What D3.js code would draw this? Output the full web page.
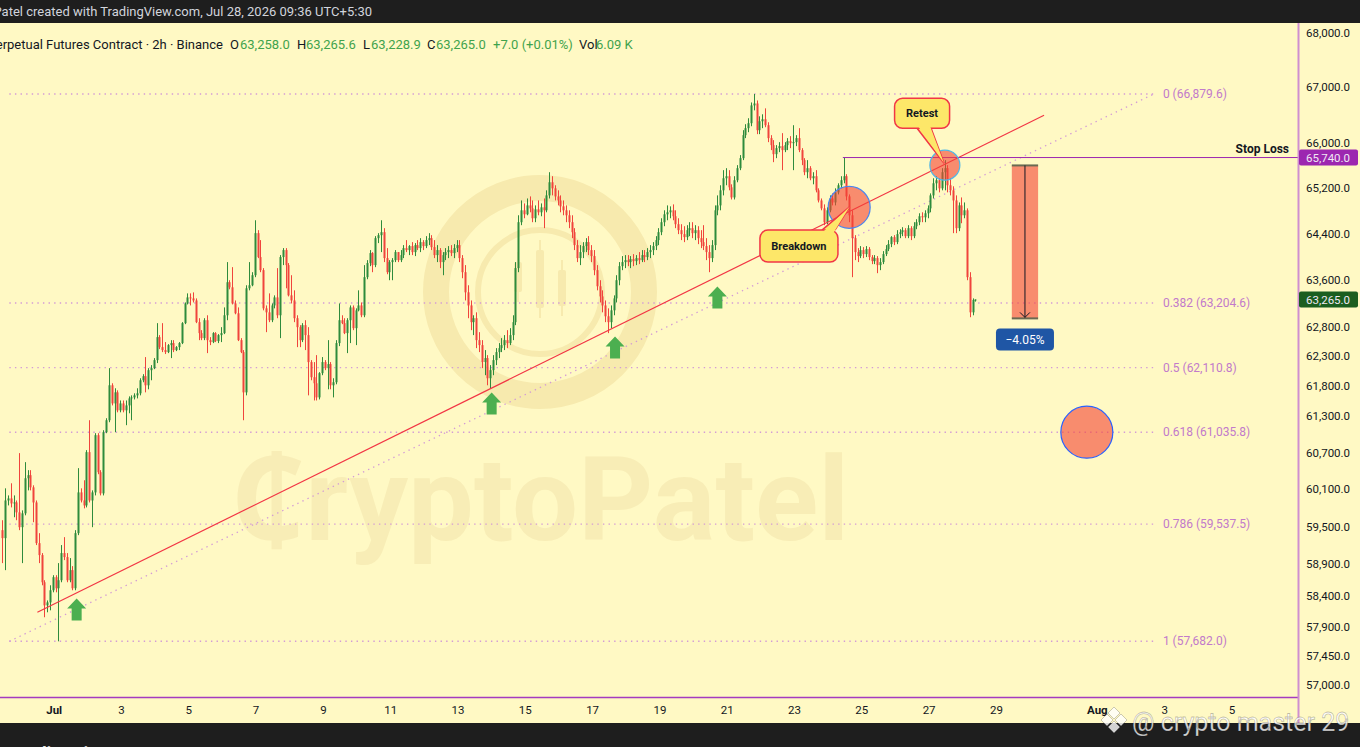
<!DOCTYPE html>
<html><head><meta charset="utf-8">
<script src="https://cdn.jsdelivr.net/npm/d3@7"></script>
<style>
html,body{margin:0;padding:0;background:#1e1e1e;overflow:hidden}
svg{display:block}
text{font-family:"Roboto","Noto Sans",sans-serif}
</style></head><body>
<svg id="chart" width="1360" height="747"></svg>
<script>
// ---------------- DATA ----------------
const firstCandleStart = "2026-06-29T10:00"; // 2h candles, open = previous close
const firstOpen = 59441;
const closes = [59313,59920,59953,59872,59888,59728,59489,59712,60281,60331,60133,59888,59233,59042,58610,58245,58292,58483,58690,58515,
58642,59074,59010,58642,58802,58515,59393,60051,59920,59840,60708,59920,60051,60987,60380,60035,61036,61234,61815,61513,
61697,61398,61513,61398,61480,61596,61613,61647,61681,61899,61967,61815,62068,62102,62237,62625,62456,62406,62372,62490,
62524,62406,62456,62524,62862,63198,63301,63284,63249,62879,
62693,62608,62912,62574,62541,62693,62558,62659,62693,62996,63561,63474,63198,63030,62574,62372,61697,63457,63509,63682,
64410,63995,63769,63114,63046,62912,63164,63301,62996,63995,64116,63856,63336,63249,62946,62794,62574,62828,62659,62204,
61950,61849,61613,62018,62204,62102,62170,61815,61866,62524,62912,62862,62693,62912,63130,62777,63080,63164,62996,63648,
63891,64064,63856,64323,64375,64427,63977,63734,63908,63942,64081,63942,
64029,64150,64116,64185,64081,64202,64150,64254,64185,64289,64323,64167,64029,64116,63908,64029,64081,64116,64064,64150,
64202,63977,63734,63388,63164,62879,62946,62574,62490,62204,62271,61933,62068,62237,62372,62439,62490,62574,62524,62659,
62879,63804,64601,64809,64739,64895,64843,64670,64826,64774,64861,64809,65071,65302,65195,65053,64982,64878,64809,64722,
64601,64427,64202,63977,64081,64185,64254,64116,64012,63769,63492,63318,63164,62979,62879,63080,63284,63596,63838,63908,
63942,63908,63960,63925,63977,63942,64029,63995,64081,64116,64185,64289,64427,64601,64739,64774,64809,64705,64566,64462,
64393,64341,64462,64497,64410,64462,64323,64254,64185,64081,63977,64202,64809,64895,65160,65373,65409,65213,
65035,65338,65551,65729,66139,66264,66353,66673,66708,66228,66388,66424,66317,66086,65961,65800,65907,65943,65872,65961,
66032,65996,66014,66086,65872,65694,65480,65551,65373,65409,65160,64982,64843,64601,64809,65017,64947,65124,65249,65338,
65409,65053,64722,64323,64081,64012,64116,64046,64133,63995,63925,63977,63856,63908,64046,64133,64219,64341,64254,64393,
64427,64462,64358,64497,64358,64531,64601,64705,64687,64757,64843,65071,65284,65338,65195,65480,65551,65249,65160,64982,
64497,64895,64722,64809,63648,63046,63258,63265.0];
const highs = [59601,60117,60002,60199,60002,59920,60692,59760,60544,60413,60413,60166,59920,59393,59074,58642,58323,58562,58722,58722,
58914,59202,59329,59074,58994,58866,59441,60446,60117,60248,60741,61234,60084,61020,61020,60413,61069,61267,62102,61849,
61765,61731,61562,61562,61562,61630,61647,61681,61765,61933,62001,62288,62102,62153,62271,62862,62659,62862,62541,62507,
62574,62574,62473,62541,62879,63215,63370,63370,63387,63284,
62946,62743,62946,62996,62625,62709,62709,62676,62794,63130,63908,63596,63821,63249,63130,62608,62406,63509,63908,63734,
64635,64462,64289,63804,63164,63370,63198,63336,63804,64029,64150,64150,63891,63682,63422,62996,62828,62862,62912,62794,
62237,62204,62321,62035,62288,62237,62574,62204,61933,62574,63198,62996,62946,62946,63164,63164,63114,63422,63215,63856,
63942,64116,64081,64358,64410,64635,64497,64150,63942,63977,64116,64081,
64116,64202,64289,64202,64254,64237,64289,64323,64289,64358,64410,64375,64289,64202,64150,64081,64150,64185,64202,64219,
64289,64289,64029,63856,63509,63249,62996,63046,62709,62574,62406,62321,62153,62321,62439,62524,62608,62659,62743,62777,
62996,63908,64722,64982,64930,65017,65053,64982,64895,64982,64930,65017,65160,65480,65409,65249,65160,65071,64982,64895,
64809,64722,64497,64289,64202,64254,64323,64358,64202,64116,63856,63596,63422,63249,63114,63164,63336,63682,63908,64012,
64029,64029,64012,64046,64029,64081,64116,64116,64150,64202,64254,64358,64497,64670,64809,64895,64878,64913,64809,64670,
64566,64531,64549,64601,64601,64549,64531,64462,64549,64323,64202,64289,64895,65071,65249,65516,65551,65516,
65266,65409,65605,65783,66228,66335,66442,66726,66879.6,66762,66477,66513,66620,66370,66139,66050,65961,66014,66175,66014,
66086,66121,66317,66139,66264,65907,65729,65694,65587,65480,65516,65195,65017,64913,64861,65071,65106,65195,65284,65409,
65740,65445,65088,64809,64375,64150,64185,64167,64185,64167,64029,64029,64012,63977,64098,64202,64289,64358,64375,64462,
64479,64514,64497,64549,64531,64601,64653,64757,64774,64809,64895,65106,65373,65409,65373,65551,65694,65605,65373,65231,
65071,64947,65035,64947,64843,63734,63284,63265.6];
const lows = [58914,58802,59840,59808,59649,59601,59441,58914,59680,60084,60084,59569,59202,58914,58562,58058,58136,58167,58451,58451,
57682.0,58610,58962,58610,58610,58483,58483,59361,59888,59792,59808,59888,59489,60002,60347,60002,60002,61020,61201,61480,
61036,61365,61365,61365,61152,61349,61234,61579,61596,61647,61866,61697,61748,61899,62085,62187,62423,62372,62339,62355,
62271,62372,62389,62406,62507,62845,63181,63164,63215,62862,
62574,62574,62574,62355,62490,62524,62541,62524,62541,62676,62912,63440,63181,63013,62558,62355,61234,61647,63422,63492,
63648,63977,63734,63080,62709,62879,62879,63114,62946,62608,63856,63457,63318,63198,62879,62456,62456,62541,62406,61647,
61899,61562,61562,61579,61984,62068,61748,61748,61613,61832,62473,62845,62676,62355,62524,62743,62490,63063,62963,62963,
63613,63838,63734,63821,64237,64081,63908,63699,63596,63596,63908,63908,
63908,63977,64081,64029,64029,64012,64116,64081,64116,64150,64202,64116,63977,63908,63804,63682,63942,63977,64012,63977,
64081,63908,63630,63249,62946,62743,62659,62439,62372,62102,61984,61815,61765,61984,62153,62271,62372,62406,62439,62490,
62574,62828,63734,64549,64670,64722,64774,64601,64601,64722,64705,64497,64774,65017,65071,64982,64895,64774,64722,64601,
64497,64323,64116,63908,63856,63977,64081,64029,63908,63682,63422,63215,63046,62879,62693,62777,62996,63215,63509,63769,
63804,63838,63804,63838,63856,63873,63908,63908,63942,63977,64029,64116,64202,64375,64531,64635,64670,64635,64497,64393,
64289,64254,64289,64358,64323,64289,64219,64150,64116,63942,63734,63908,64116,64722,64809,65071,65249,65160,
64999,64999,65302,65516,65694,66086,66192,66299,66584,66157,66157,66264,66281,66014,65872,65658,65729,65836,65516,65836,
65872,65907,65516,65943,65836,65605,65427,65373,65338,65266,65124,64947,64809,64549,64566,64774,64895,64895,65088,65195,
65284,64982,64601,63648,63942,63908,63977,63977,63995,63942,63873,63873,63717,63769,63873,64012,64098,64167,64202,64219,
64323,64358,64323,64323,64289,64323,64479,64549,64601,64601,64670,64774,65017,65160,65124,65160,65160,65124,65071,64410,
64410,64445,64583,64670,63596,62963,62996,63228.9];

const priceTicks = [68000,67000,66000,65200,64400,63600,62800,62300,61800,61300,60700,60100,59500,58900,58400,57900,57450,57000];
const fibLevels = ["0","0.382","0.5","0.618","0.786","1"];
const fibPrices = [66879.6,63204.6,62110.8,61035.8,59537.5,57682.0];
const fibStart = ["2026-06-29T16:00", 57682.0];
const fibEnd   = ["2026-08-02T16:20", 66879.6];
const trendLine = [["2026-06-30T12:00",58136],["2026-07-30T10:00",66495]];
const upArrows = [["2026-07-01T16:00",58355],["2026-07-14T00:00",61696],["2026-07-17T16:00",62637],["2026-07-20T17:00",63489]];
const stopLoss = {start:"2026-07-24T10:30", price:65740.0, label:"Stop Loss"};
const lastPrice = 63265.0;
const circleCenters = [["2026-07-24T15:00",64861],["2026-07-27T11:15",65605],["2026-07-31T16:30",61035.8]];
const callouts = [
  {text:"Breakdown", box:["2026-07-23T03:10",64185], tip:["2026-07-24T15:20",64870]},
  {text:"Retest", box:["2026-07-26T19:00",66531], tip:["2026-07-27T10:40",65640]}
];
const measure = {t1:"2026-07-29T11:00", t2:"2026-07-30T05:45", from:65600, to:62943, label:"−4.05%"};
const header = {source:"Patel created with TradingView.com, Jul 28, 2026 09:36 UTC+5:30",
  symbol:"Perpetual Futures Contract · 2h · Binance", O:"63,258.0", H:"63,265.6", L:"63,228.9", C:"63,265.0", chg:"+7.0 (+0.01%)", vol:"6.09 K"};

// ---------------- SETUP ----------------
const parse = s => new Date(s + ":00Z");
const svg = d3.select("#chart");
const PR = 1298, PT = 23, PB = 697;
const x = d3.scaleUtc().domain([parse("2026-06-29T09:20"), parse("2026-08-06T23:07")]).range([0, PR]);
const y = d3.scaleLog().domain([57000, 68000]).range([685.3, 32.5]);
const BG = "#fff9c4", UP = "#2e8b3c", DOWN = "#f0443c";

svg.append("rect").attr("width",1360).attr("height",747).attr("fill","#1e1e1e");
svg.append("rect").attr("x",0).attr("y",PT).attr("width",1360).attr("height",723-PT).attr("fill",BG);

const defs = svg.append("defs");
defs.append("clipPath").attr("id","plot").append("rect").attr("x",0).attr("y",PT).attr("width",PR).attr("height",PB-PT);

// watermark
const wm = svg.append("g").attr("clip-path","url(#plot)");
const WMC = "#f7eaae";
wm.append("circle").attr("cx",540).attr("cy",292).attr("r",104).attr("fill","none").attr("stroke",WMC).attr("stroke-width",26);
wm.append("circle").attr("cx",540).attr("cy",292).attr("r",62).attr("fill","none").attr("stroke",WMC).attr("stroke-width",6);
[[-22,262,30,8],[0,250,58,8],[22,270,36,8]].forEach(([dx,yy,h,w])=>{
  wm.append("rect").attr("x",540+dx-w/2).attr("y",yy).attr("width",w).attr("height",h).attr("rx",2).attr("fill",WMC);
  wm.append("line").attr("x1",540+dx).attr("x2",540+dx).attr("y1",yy-10).attr("y2",yy+h+10).attr("stroke",WMC).attr("stroke-width",2);
});
wm.append("text").attr("x",540).attr("y",540).attr("text-anchor","middle").attr("font-size",117).attr("font-weight",700)
  .attr("fill","#f8edb6").text("₵ryptoPatel");

const plot = svg.append("g").attr("clip-path","url(#plot)");

// fib levels
const fx1 = x(parse(fibStart[0])), fx2 = x(parse(fibEnd[0]));
const fibColor = "#d39bd6";
plot.selectAll(".fib").data(fibPrices).join("line")
  .attr("x1",fx1).attr("x2",fx2).attr("y1",d=>y(d)).attr("y2",d=>y(d))
  .attr("stroke",fibColor).attr("stroke-width",1.4).attr("stroke-dasharray","1.4,4.2");
plot.append("line").attr("x1",fx1).attr("y1",y(fibStart[1])).attr("x2",fx2).attr("y2",y(fibEnd[1]))
  .attr("stroke",fibColor).attr("stroke-width",1.3).attr("stroke-dasharray","1.4,4.2");
plot.selectAll(".fibl").data(fibPrices).join("text")
  .attr("x",fx2+9).attr("y",d=>y(d)).attr("dy","0.35em").attr("font-size",12).attr("fill","#c27acb")
  .text((d,i)=>`${fibLevels[i]} (${d3.format(",.1f")(d)})`);

// candles
const t0 = parse(firstCandleStart);
const candles = closes.map((c,i)=>({t:new Date(+t0 + (i*2+1)*3600e3), o:i?closes[i-1]:firstOpen, h:highs[i], l:lows[i], c}));
const cg = plot.append("g");
cg.selectAll("line").data(candles).join("line")
  .attr("x1",d=>Math.round(x(d.t))+0.5).attr("x2",d=>Math.round(x(d.t))+0.5)
  .attr("y1",d=>y(d.h)).attr("y2",d=>y(d.l)).attr("stroke",d=>d.c>=d.o?UP:DOWN).attr("stroke-width",1);
cg.selectAll("rect").data(candles).join("rect")
  .attr("x",d=>Math.round(x(d.t))-0.5).attr("width",2)
  .attr("y",d=>y(Math.max(d.o,d.c))).attr("height",d=>Math.max(1,Math.abs(y(d.o)-y(d.c))))
  .attr("fill",d=>d.c>=d.o?UP:DOWN);

// trend line
plot.append("line").attr("x1",x(parse(trendLine[0][0]))).attr("y1",y(trendLine[0][1]))
  .attr("x2",x(parse(trendLine[1][0]))).attr("y2",y(trendLine[1][1])).attr("stroke","#f23645").attr("stroke-width",1.2);

// stop loss
const slY = y(stopLoss.price);
plot.append("line").attr("x1",x(parse(stopLoss.start))).attr("x2",PR).attr("y1",slY).attr("y2",slY).attr("stroke","#9c27b0").attr("stroke-width",1);
svg.append("text").attr("x",1289).attr("y",slY-5).attr("text-anchor","end").attr("font-size",12).attr("font-weight",700).attr("fill","#131722").text(stopLoss.label);

// circles
const circStyle = [{r:21,stroke:"#4a86f0"},{r:15,stroke:"#4fb8e8"},{r:26,stroke:"#2962ff"}];
plot.selectAll(".circ").data(circleCenters).join("circle")
  .attr("cx",d=>x(parse(d[0]))).attr("cy",d=>y(d[1])).attr("r",(d,i)=>circStyle[i].r)
  .attr("fill","rgba(244,67,54,0.6)").attr("stroke",(d,i)=>circStyle[i].stroke).attr("stroke-width",1.2);

// measure box
const mx1 = x(parse(measure.t1)), mx2 = x(parse(measure.t2)), my1 = y(measure.from), my2 = y(measure.to);
plot.append("rect").attr("x",mx1).attr("y",my1).attr("width",mx2-mx1).attr("height",my2-my1).attr("fill","rgba(244,67,54,0.6)");
plot.append("line").attr("x1",mx1).attr("x2",mx2).attr("y1",my1).attr("y2",my1).attr("stroke","#6a6a52").attr("stroke-width",2);
plot.append("line").attr("x1",mx1).attr("x2",mx2).attr("y1",my2).attr("y2",my2).attr("stroke","#6a6a52").attr("stroke-width",2);
const mxc = (mx1+mx2)/2;
plot.append("line").attr("x1",mxc).attr("x2",mxc).attr("y1",my1).attr("y2",my2-1).attr("stroke","#131722").attr("stroke-width",1);
plot.append("path").attr("d",`M${mxc-5},${my2-6}L${mxc},${my2-1}L${mxc+5},${my2-6}`).attr("fill","none").attr("stroke","#131722").attr("stroke-width",1);
plot.append("rect").attr("x",mxc-29).attr("y",my2+10).attr("width",58).attr("height",22).attr("rx",4).attr("fill","#1f56a5");
plot.append("text").attr("x",mxc).attr("y",my2+21).attr("dy","0.35em").attr("text-anchor","middle").attr("font-size",12).attr("fill","#ffffff").text(measure.label);

// up arrows
plot.selectAll(".arr").data(upArrows).join("path")
  .attr("transform",d=>`translate(${x(parse(d[0]))},${y(d[1])})`)
  .attr("d","M0,0L9.5,10L5,10L5,22L-5,22L-5,10L-9.5,10Z").attr("fill","#4caf50");

// callouts
const cfill = "#fde769", cstroke = "#f23645";
callouts.forEach((c,i)=>{
  const bx = x(parse(c.box[0])), by = y(c.box[1]);
  const tx = x(parse(c.tip[0])), ty = y(c.tip[1]);
  const w = i===0?78:55, h = i===0?32:30;
  const g = plot.append("g");
  let base;
  if(i===0) base = [[bx+w/2-16, by-h/2],[bx+w/2-3, by-h/2]];
  else base = [[bx-5, by+h/2],[bx+9, by+h/2]];
  g.append("path").attr("d",`M${base[0][0]},${base[0][1]}L${tx},${ty}L${base[1][0]},${base[1][1]}`).attr("fill",cfill).attr("stroke",cstroke).attr("stroke-width",1.5);
  g.append("rect").attr("x",bx-w/2).attr("y",by-h/2).attr("width",w).attr("height",h).attr("rx",8).attr("fill",cfill).attr("stroke",cstroke).attr("stroke-width",1.5);
  g.append("path").attr("d",`M${base[0][0]+1},${base[0][1]+(i===0?2:-2)}L${tx},${ty}L${base[1][0]-1},${base[1][1]+(i===0?2:-2)}Z`).attr("fill",cfill);
  g.append("text").attr("x",bx).attr("y",by).attr("dy","0.35em").attr("text-anchor","middle").attr("font-size",11).attr("font-weight",700).attr("fill","#131722").text(c.text);
});

// axes lines
svg.append("line").attr("x1",0).attr("x2",PR).attr("y1",PB+0.5).attr("y2",PB+0.5).attr("stroke","#a43bc0").attr("stroke-width",1.5);
svg.append("line").attr("x1",PR+0.5).attr("x2",PR+0.5).attr("y1",PT).attr("y2",723).attr("stroke","#cf8fd0").attr("stroke-width",2);

// y axis labels
const fmt = d3.format(",.1f");
svg.selectAll(".yt").data(priceTicks).join("text")
  .attr("x",1306).attr("y",d=>y(d)).attr("dy","0.35em").attr("font-size",11.5).attr("fill","#131722").text(d=>fmt(d));
[[stopLoss.price,"#9c27b0"],[lastPrice,"#1b5e20"]].forEach(([p,col])=>{
  svg.append("rect").attr("x",PR+1).attr("y",y(p)-8).attr("width",59).attr("height",16).attr("rx",2).attr("fill",col);
  svg.append("text").attr("x",1306).attr("y",y(p)).attr("dy","0.35em").attr("font-size",11.5).attr("fill","#f0e8f4").text(fmt(p));
});

// x axis labels
const days = d3.utcDay.range(parse("2026-06-29T00:00"), parse("2026-08-07T00:00")).filter(d=>{const n=d.getUTCDate(); return n%2===1 && n!==31 || n===29 && d.getUTCMonth()===5;});
svg.selectAll(".xt").data(days).join("text")
  .attr("x",d=>x(d)).attr("y",710).attr("dy","0.35em").attr("text-anchor","middle").attr("font-size",11.5)
  .attr("font-weight",d=>d.getUTCDate()===1?700:400).attr("fill","#131722")
  .text(d=>d.getUTCDate()===1?d3.utcFormat("%b")(d):d.getUTCDate());

// header
svg.append("text").attr("x",372).attr("y",16).attr("text-anchor","end").attr("font-size",13).attr("fill","#d1d4dc").text(header.source);
const hy = 49;
const hdr = (tx,xx,col,anchor)=>svg.append("text").attr("x",xx).attr("y",hy).attr("font-size",13).attr("fill",col).attr("text-anchor",anchor||"start").text(tx);
hdr(header.symbol,223,"#131722","end");
const G="#3fa34d";
hdr("O",230,"#131722"); hdr(header.O,240,G);
hdr("H",297,"#131722"); hdr(header.H,306,G);
hdr("L",363,"#131722"); hdr(header.L,371,G);
hdr("C",427,"#131722"); hdr(header.C,436,G);
hdr(header.chg,493,G);
hdr("Vol",579,"#131722"); hdr(header.vol,596,G);

// bottom overlay
svg.append("text").attr("x",10).attr("y",760).attr("font-size",18).attr("font-weight",700).attr("fill","#e0e0e0").text("TradingView");
const wmk = svg.append("g");
wmk.append("path").attr("transform","translate(1114,720)").attr("d","M0,-13L6,-7L0,-1L-6,-7Z M-7,-6L-1,0L-7,6L-13,0Z M7,-6L13,0L7,6L1,0Z M0,1L6,7L0,13L-6,7Z")
  .attr("fill","rgba(255,255,255,0.8)").attr("stroke","rgba(0,0,0,0.25)").attr("stroke-width",0.8);
wmk.append("text").attr("x",1132).attr("y",731).attr("font-size",25).attr("fill","rgba(255,255,255,0.82)")
  .attr("stroke","rgba(0,0,0,0.25)").attr("stroke-width",0.8).text("@ crypto master 29");
</script>
</body></html>
